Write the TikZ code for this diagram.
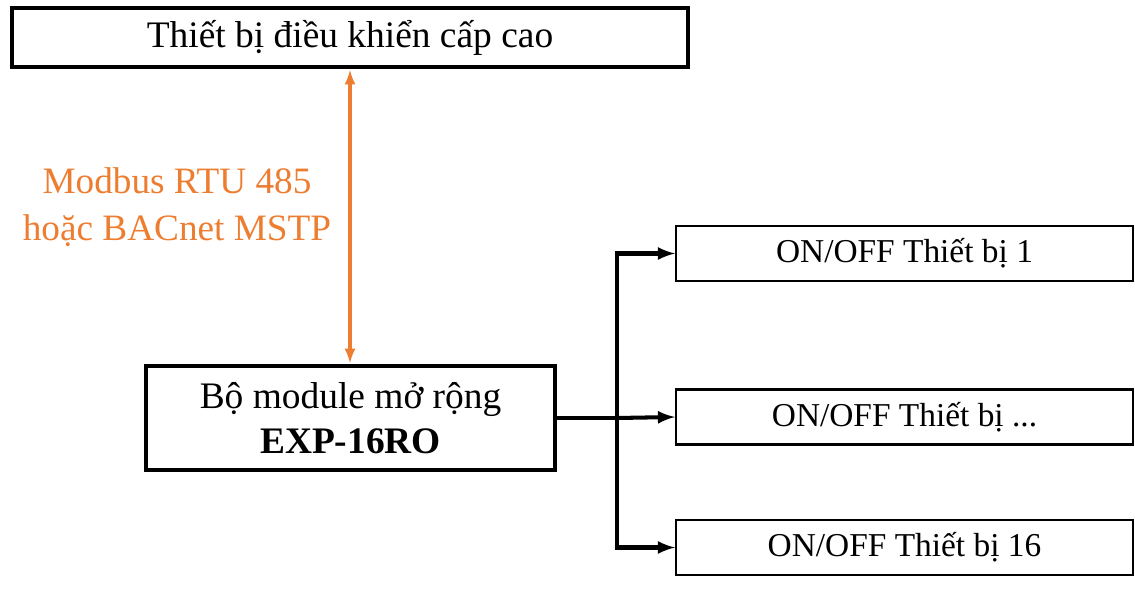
\documentclass[tikz,border=0pt]{standalone}
\usepackage{fontspec}
\setmainfont{Liberation Serif}
\usetikzlibrary{arrows, positioning}
\definecolor{linkorange}{RGB}{237,125,49}

\begin{document}
\begin{tikzpicture}[
	x=0.02cm, y=-0.02cm,
	every node/.style = {shape=rectangle, draw=none, align=center, inner sep=0mm},
	mainbox/.style = {draw, line width=2.3pt, font=\fontsize{21.3}{26}\selectfont},
	devbox/.style = {draw, line width=1.2pt, minimum width=457*0.02cm, minimum height=55*0.02cm, font=\fontsize{19}{22}\selectfont},
	link/.style = {draw, line width=2.3pt, -latex},
	]
\useasboundingbox (0,0) rectangle (1135,588);
\node [mainbox, minimum width=676*0.02cm, minimum height=59*0.02cm] (ctrl) at (350,37.5) {Thiết bị điều khiển cấp cao};
\node [mainbox, minimum width=409*0.02cm, minimum height=104*0.02cm] (exp) at (350.5,418) {Bộ module mở rộng\\ \textbf{EXP-16RO}};
% device boxes, from top to bottom
\node [devbox] (d1) at (904.5,253.5) {ON/OFF Thiết bị 1};
\node [devbox] (d2) at (904.5,417) {ON/OFF Thiết bị ...};
\node [devbox] (d16) at (904.5,547.5) {ON/OFF Thiết bị 16};
% bus link
\coordinate (ta) at (350,70);
\coordinate (tb) at (350,363);
\draw [linkorange, line width=1.8pt, latex-latex] (ta) -- (tb);
\node [text=linkorange, font=\fontsize{21.2}{27}\selectfont] (bus) at (177,207) {Modbus RTU 485\\hoặc BACnet MSTP};
% outputs
\coordinate (fork) at (617,418);
\draw [line width=2.3pt] (exp.east) -- (fork);
\draw [link] (fork) |- (d1.west);
\draw [link] (fork) -- (d2.west);
\draw [link] (fork) |- (d16.west);
\end{tikzpicture}
\end{document}
